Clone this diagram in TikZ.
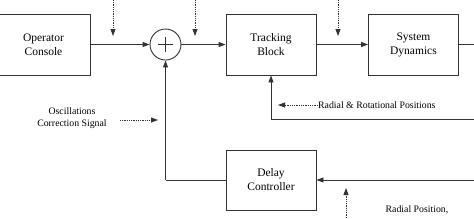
\documentclass[tikz,border=0pt]{standalone}
\usepackage{fontspec}
\setmainfont{Liberation Serif}
\newfontfamily\tnr{Liberation Serif}
\usetikzlibrary{arrows.meta}
\begin{document}
\begin{tikzpicture}[x=1pt,y=-1pt,
  blk/.style={draw=black!80,line width=0.9pt,minimum width=90pt,minimum height=61pt,inner sep=0pt,align=center,font=\tnr\fontsize{11.5}{14}\selectfont},
  lbl/.style={align=center,inner sep=0pt,font=\tnr\fontsize{9.8}{12}\selectfont},
  conn/.style={draw=black!80,line width=0.9pt,-{Triangle[length=7pt,width=5pt]}},
  plain/.style={draw=black!80,line width=0.9pt},
  dotarr/.style={draw=black!80,line width=0.8pt,densely dotted,-{Triangle[length=7pt,width=5pt]}}]
\useasboundingbox (0,0) rectangle (474,218);
\node[blk,minimum width=93pt] (opc) at (43.5,44.5) {Operator\\Console};
\node[draw=black!80,line width=0.9pt,circle,minimum size=31pt,inner sep=0pt] (sum) at (165.5,44.5) {};
\draw[black!80,line width=0.7pt] ([xshift=-7.5pt]sum.center) -- ([xshift=7.5pt]sum.center);
\draw[black!80,line width=0.7pt] ([yshift=-7.5pt]sum.center) -- ([yshift=7.5pt]sum.center);
\node[blk] (track) at (271,44.5) {Tracking\\Block};
\node[blk] (sys) at (413.5,44.5) {System\\Dynamics};
\node[blk,minimum height=60pt] (delay) at (271,180) {Delay\\Controller};
\coordinate (r1) at (476,44.5);
\coordinate (r2) at (476,119);
\coordinate (r3) at (271,119);
\coordinate (d1) at (476,180);
\coordinate (s1) at (165.5,180);
\draw[conn] (opc.east) -- (sum.west);
\draw[conn] (sum.east) -- (track.west);
\draw[conn] (track.east) -- (sys.east -| sys.west);
\draw[plain] (sys.east) -- (r1) -- (r2) -- (r3);
\draw[conn] (r3) -- (track.south);
\draw[conn] (d1) -- (delay.east);
\draw[plain] (delay.west) -- (s1);
\draw[conn] (s1) -- (sum.south);
\coordinate (t1a) at (113,0); \coordinate (t1b) at (113,36);
\coordinate (t2a) at (195,0); \coordinate (t2b) at (195,36);
\coordinate (t3a) at (338,0); \coordinate (t3b) at (338,36);
\draw[dotarr] (t1a) -- (t1b);
\draw[dotarr] (t2a) -- (t2b);
\draw[dotarr] (t3a) -- (t3b);
\node[lbl,anchor=west] (rrp) at (318,105) {Radial \& Rotational Positions};
\coordinate (rrpa) at (278,105);
\draw[dotarr] (rrp.west) -- (rrpa);
\node[lbl] (osc) at (72,118) {Oscillations\\Correction Signal};
\coordinate (osca) at (120,120); \coordinate (oscb) at (158,120);
\draw[dotarr] (osca) -- (oscb);
\node[lbl,anchor=north] (rp) at (417,205) {Radial Position,};
\coordinate (dpa) at (346,218); \coordinate (dpb) at (346,188);
\draw[dotarr] (dpa) -- (dpb);
\end{tikzpicture}
\end{document}
